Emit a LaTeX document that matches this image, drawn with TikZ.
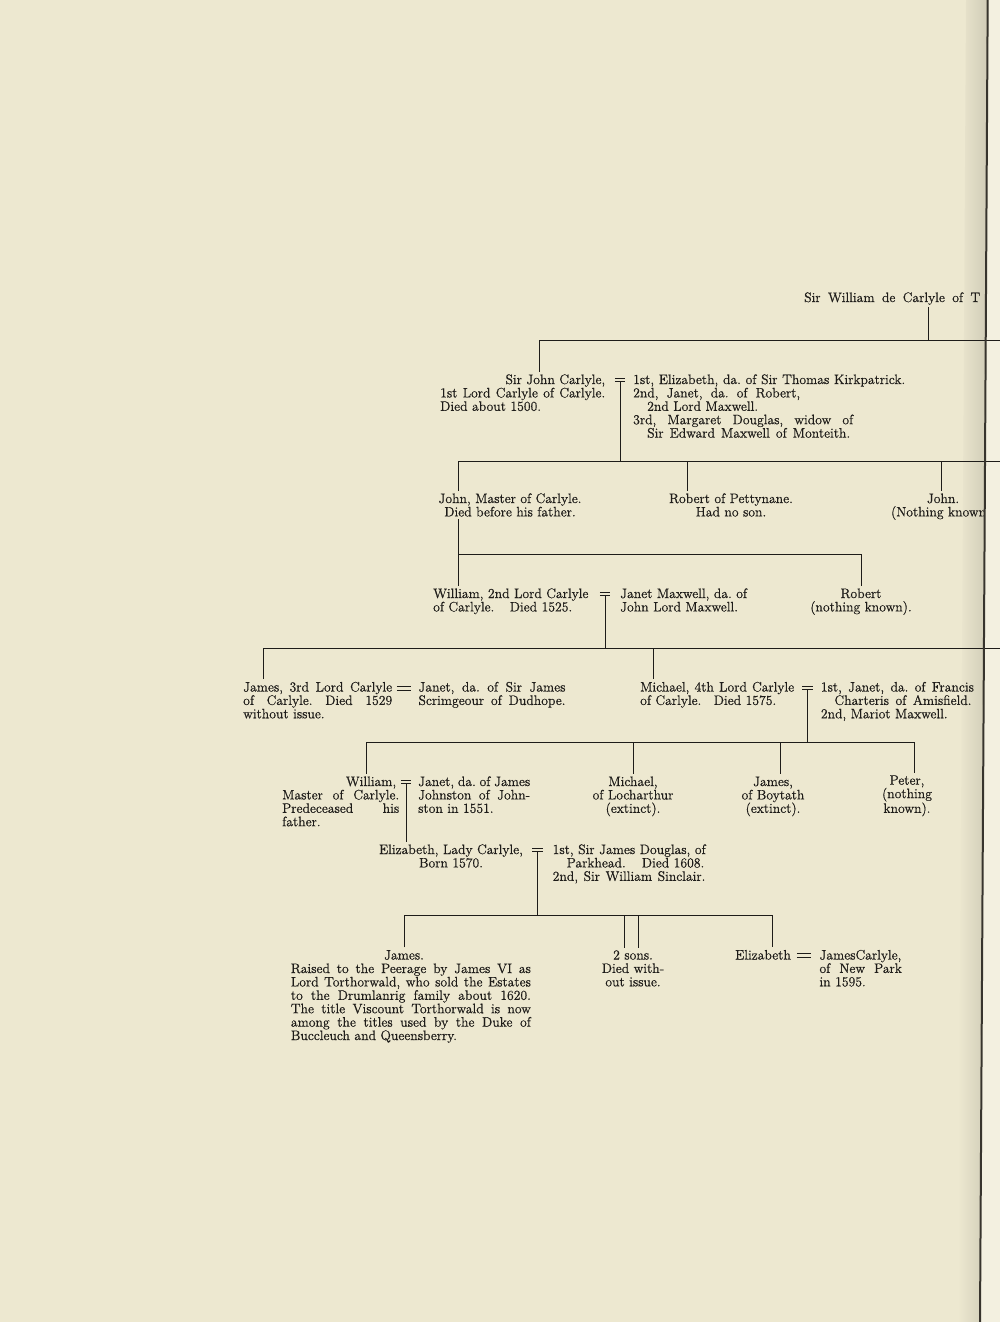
\documentclass[tikz,border=0pt]{standalone}
\usepackage{fontspec}
\setmainfont{Latin Modern Roman}[FakeBold=0.6]
\definecolor{paper}{RGB}{237,232,208}
\definecolor{ink}{RGB}{30,28,25}
\definecolor{fold}{RGB}{55,52,45}
\tikzset{
  every node/.style={font=\fontsize{13.7}{13.4}\selectfont\frenchspacing, text=ink, inner xsep=0pt, inner ysep=2.5pt},
  rail/.style={draw=ink, line width=0.8pt},
  wed/.style={minimum width=10pt, minimum height=3pt, inner sep=0pt,
    append after command={(\tikzlastnode.north west) edge[draw=ink, line width=0.8pt] (\tikzlastnode.north east)
      (\tikzlastnode.south west) edge[draw=ink, line width=0.8pt] (\tikzlastnode.south east)}},
  eqsign/.style={wed, minimum width=14pt, minimum height=3.5pt},
}
\begin{document}
\begin{tikzpicture}[x=1pt,y=-1pt]
  \useasboundingbox (0,0) rectangle (1000,1322);
  \fill[paper] (0,0) rectangle (1000,1322);
  % page fold
  \shade[left color=paper, right color=paper!88!black] (966,0) -- (987,0) -- (979,1322) -- (958,1322) -- cycle;
  \fill[paper!65!white] (988.5,0) -- (1000,0) -- (1000,1322) -- (980.5,1322) -- cycle;

  % texts (base anchor = last line)
  \begin{scope}
    \clip (0,0) -- (986.5,0) -- (978.8,1322) -- (0,1322) -- cycle;
    \node[anchor=base west] (sirw) at (804,302) {\makebox[176pt][s]{Sir William de Carlyle of T}};

    \node[anchor=base west, align=left] (sirjohn) at (440,410.8) {\makebox[165pt][r]{Sir John Carlyle,}\\\makebox[165pt][s]{1st Lord Carlyle of Carlyle.}\\Died about 1500.};
    \node[anchor=base west, align=left] (sjwives) at (633,437.6) {\makebox[272pt][s]{1st, Elizabeth, da. of Sir Thomas Kirkpatrick.}\\\makebox[167pt][s]{2nd, Janet, da. of Robert,}\\\hspace*{14pt}2nd Lord Maxwell.\\\makebox[220pt][s]{3rd, Margaret Douglas, widow of}\\\hspace*{14pt}\makebox[203pt][s]{Sir Edward Maxwell of Monteith.}};

    \node[anchor=base, align=center] (jmaster) at (510,516.4) {John, Master of Carlyle.\\Died before his father.};
    \node[anchor=base, align=center] (rpetty) at (731,516.4) {Robert of Pettynane.\\Had no son.};
    \node[anchor=base, align=center] (john1) at (943,516.4) {John.\\(Nothing known).};

    \node[anchor=base west, align=left] (william) at (433,611.4) {William, 2nd Lord Carlyle\\\makebox[139pt][s]{of Carlyle.\hfill Died 1525.}};
    \node[anchor=base west, align=left] (janetm) at (620,611.4) {Janet Maxwell, da. of\\John Lord Maxwell.};
    \node[anchor=base, align=center] (robert2) at (861,611.4) {Robert\\(nothing known).};

    \node[anchor=base west, align=left] (james3) at (243,718.3) {\makebox[149pt][s]{James, 3rd Lord Carlyle}\\\makebox[149pt][s]{of Carlyle. Died 1529}\\without issue.};
    \node[anchor=base west, align=left] (janets) at (418.3,704.9) {\makebox[147pt][s]{Janet, da. of Sir James}\\\makebox[147pt][s]{Scrimgeour of Dudhope.}};
    \node[anchor=base west, align=left] (michael4) at (640,704.9) {\makebox[154pt][s]{Michael, 4th Lord Carlyle}\\\makebox[136pt][s]{of Carlyle.\hfill Died 1575.}};
    \node[anchor=base west, align=left] (mwives) at (820.7,718.3) {\makebox[153pt][s]{1st, Janet, da. of Francis}\\\hspace*{13.6pt}\makebox[137pt][s]{Charteris of Amisfield.}\\2nd, Mariot Maxwell.};

    \node[anchor=base west, align=left] (wmaster) at (282,826.2) {\makebox[117pt][r]{William,\hspace{3pt}}\\\makebox[117pt][s]{Master of Carlyle.}\\\makebox[117pt][s]{Predeceased his}\\father.};
    \node[anchor=base west, align=left] (janetj) at (418,812.8) {\makebox[112pt][s]{Janet, da. of James}\\\makebox[112pt][s]{Johnston of John-}\\ston in 1551.};
    \node[anchor=base, align=center] (michaelL) at (633,812.8) {Michael,\\of Locharthur\\(extinct).};
    \node[anchor=base, align=center] (jamesB) at (773,812.8) {James,\\of Boytath\\(extinct).};
    \node[anchor=base, align=center] (peter) at (907,812.8) {Peter,\\(nothing\\known).};

    \node[anchor=base, align=center] (elizL) at (451,867.4) {Elizabeth, Lady Carlyle,\\Born 1570.};
    \node[anchor=base west, align=left] (elizH) at (552.5,880.8) {\makebox[153pt][s]{1st, Sir James Douglas, of}\\\hspace*{14pt}\makebox[137.6pt][s]{Parkhead.\hfill Died 1608.}\\\makebox[152.7pt][s]{2nd, Sir William Sinclair.}};

    \node[anchor=base] (jamesT) at (404,959.5) {James.};
    \node[anchor=base west, align=left] (jamesTn) at (290.7,1040) {\makebox[240pt][s]{Raised to the Peerage by James VI as}\\\makebox[240pt][s]{Lord Torthorwald, who sold the Estates}\\\makebox[240pt][s]{to the Drumlanrig family about 1620.}\\\makebox[240pt][s]{The title Viscount Torthorwald is now}\\\makebox[240pt][s]{among the titles used by the Duke of}\\Buccleuch and Queensberry.};
    \node[anchor=base, align=center] (sons) at (633,986.3) {2 sons.\\Died with-\\out issue.};
    \node[anchor=base west] (elizB) at (735,959.5) {Elizabeth};
    \node[anchor=base west, align=left] (jcarlyle) at (819.3,986.3) {\makebox[82.4pt][s]{JamesCarlyle,}\\\makebox[82.4pt][s]{of New Park}\\in 1595.};
  \end{scope}

  % rails
  \coordinate (r1w) at (539,340); \coordinate (r1e) at (1000,340); \coordinate (r1t) at (928,340);
  \coordinate (r2w) at (458,461); \coordinate (r2e) at (1000,461);
  \coordinate (r2b) at (687,461); \coordinate (r2c) at (941,461);
  \coordinate (r3w) at (458,554); \coordinate (r3e) at (861,554);
  \coordinate (r4w) at (263,648); \coordinate (r4e) at (1000,648); \coordinate (r4b) at (653,648);
  \coordinate (r5w) at (366,742); \coordinate (r5e) at (914,742);
  \coordinate (r5b) at (633,742); \coordinate (r5c) at (780,742);
  \coordinate (r6w) at (404,915); \coordinate (r6e) at (772,915);
  \coordinate (r6b) at (624.5,915); \coordinate (r6c) at (638.5,915);

  \draw[rail] (r1t |- sirw.south) -- (r1t);
  \draw[rail] (r1w |- sirjohn.north) -- (r1w) -- (r1e);
  \node[wed] (m1) at (620,380) {};
  \draw[rail] (m1.south) -- (m1.south |- r2w);

  \draw[rail] (r2w |- jmaster.north) -- (r2w) -- (r2e);
  \draw[rail] (r2b) -- (r2b |- rpetty.north);
  \draw[rail] (r2c) -- (r2c |- john1.north);
  \draw[rail] (r2w |- jmaster.south) -- (r2w |- william.north);
  \draw[rail] (r3w) -- (r3e) -- (r3e |- robert2.north);

  \node[wed] (m2) at (605,594) {};
  \draw[rail] (m2.south) -- (m2.south |- r4w);
  \draw[rail] (r4w |- james3.north) -- (r4w) -- (r4e);
  \draw[rail] (r4b) -- (r4b |- michael4.north);
  \node[eqsign] (e1) at (404,688) {};
  \node[wed] (m3) at (807.5,688) {};
  \draw[rail] (m3.south) -- (m3.south |- r5w);

  \draw[rail] (r5w |- wmaster.north) -- (r5w) -- (r5e) -- (r5e |- peter.north);
  \draw[rail] (r5b) -- (r5b |- michaelL.north);
  \draw[rail] (r5c) -- (r5c |- jamesB.north);
  \node[wed] (m4) at (406,782) {};
  \draw[rail] (m4.south) -- (m4.south |- elizL.north);
  \node[wed] (m5) at (537.5,850) {};
  \draw[rail] (m5.south) -- (m5.south |- r6w);

  \draw[rail] (r6w |- jamesT.north) -- (r6w) -- (r6e) -- (r6e |- elizB.north);
  \draw[rail] (r6b) -- (r6b |- sons.north);
  \draw[rail] (r6c) -- (r6c |- sons.north);
  \node[eqsign] (e2) at (804,955.5) {};

  \draw[line width=2pt, fold] (987.7,0) -- (980,1322);
\end{tikzpicture}
\end{document}
